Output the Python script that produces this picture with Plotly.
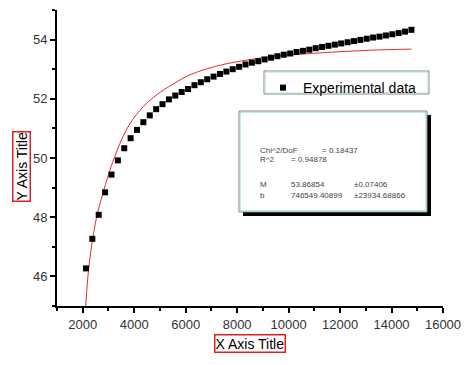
import plotly.graph_objects as go

# ---- data ----
exp_x = [2125, 2373, 2621, 2869, 3117, 3365, 3613, 3861, 4109, 4357, 4605, 4853,
         5101, 5349, 5597, 5845, 6093, 6341, 6589, 6837, 7085, 7333, 7581, 7829,
         8077, 8325, 8573, 8821, 9069, 9317, 9565, 9813, 10061, 10309, 10557, 10805,
         11053, 11301, 11549, 11797, 12045, 12293, 12541, 12789, 13037, 13285, 13533,
         13781, 14029, 14277, 14525, 14773]
exp_y = [46.27, 47.27, 48.08, 48.84, 49.44, 49.92, 50.33, 50.67, 50.95, 51.21,
         51.44, 51.65, 51.82, 51.98, 52.11, 52.23, 52.33, 52.46, 52.56, 52.66,
         52.75, 52.84, 52.92, 53.00, 53.08, 53.16, 53.22, 53.27, 53.33, 53.39,
         53.44, 53.49, 53.53, 53.58, 53.62, 53.66, 53.71, 53.75, 53.79, 53.83,
         53.87, 53.91, 53.95, 53.99, 54.03, 54.07, 54.10, 54.14, 54.18, 54.22,
         54.27, 54.33]

fit_x = [2115, 2255, 2527, 2774, 2994, 3226, 3705, 4223, 4850, 5517, 6165, 6813,
         7458, 8107, 8755, 9400, 11213, 13155, 14775]
fit_y = [45.0, 46.45, 47.95, 48.78, 49.42, 50.01, 50.97, 51.61, 52.12, 52.50,
         52.81, 53.01, 53.16, 53.27, 53.36, 53.43, 53.55, 53.64, 53.68]

x_ticks = [2000, 4000, 6000, 8000, 10000, 12000, 14000, 16000]
y_ticks = [46, 48, 50, 52, 54]

legend_label = "Experimental data"
x_title = "X Axis Title"
y_title = "Y Axis Title"
stats_rows = [
    ["Chi^2/DoF", "= 0.18437", ""],
    ["R^2", "= 0.94878", ""],
    ["M", "53.86854", "±0.07406"],
    ["b", "746549.40899", "±23934.68866"],
]

# ---- layout geometry (pixels in the reference picture) ----
OFF = 8                      # default page body margin of the browser
W, H = 474 - OFF, 365 - OFF  # figure size so that it ends at the window edge
L, R, T, B = 57, 443, 10, 306
FONT = "Arial, Liberation Sans, sans-serif"


def px(xp):
    return (xp - L) / (R - L)


def py(yp):
    return (B - yp) / (B - T)


fig = go.Figure()
fig.add_trace(go.Scatter(
    x=fit_x, y=fit_y, mode="lines",
    line=dict(color="rgb(232,40,50)", width=1, shape="spline", smoothing=1.0),
    showlegend=False, hoverinfo="skip"))
fig.add_trace(go.Scatter(
    x=exp_x, y=exp_y, mode="markers", name=legend_label,
    marker=dict(symbol="square", size=6, color="black")))

shapes = []
# legend box
shapes.append(dict(type="rect", xref="paper", yref="paper", layer="below",
                   x0=px(264), x1=px(429), y0=py(94), y1=py(71),
                   line=dict(color="#a07880", width=1), fillcolor="white"))
shapes.append(dict(type="rect", xref="paper", yref="paper", layer="below",
                   x0=px(265), x1=px(428), y0=py(93), y1=py(72),
                   line=dict(color="#9ee6e6", width=1)))
# stats box with shadow
shapes.append(dict(type="rect", xref="paper", yref="paper",
                   x0=px(243), x1=px(431), y0=py(216), y1=py(115),
                   line=dict(width=0), fillcolor="black"))
shapes.append(dict(type="rect", xref="paper", yref="paper",
                   x0=px(239), x1=px(427), y0=py(212), y1=py(111),
                   line=dict(color="#a07880", width=1), fillcolor="white"))
shapes.append(dict(type="rect", xref="paper", yref="paper",
                   x0=px(240), x1=px(426), y0=py(211), y1=py(112),
                   line=dict(color="#7adada", width=1)))

annotations = []
row_y = [150.7, 159.5, 184.7, 195.7]
col_x = [[258, 320, 0], [258, 289, 0], [258, 289, 352], [258, 289, 352]]
for r, row in enumerate(stats_rows):
    for c, txt in enumerate(row):
        if not txt:
            continue
        annotations.append(dict(
            x=px(col_x[r][c]), y=py(row_y[r]), xref="paper", yref="paper",
            text=txt, showarrow=False, xanchor="left", yanchor="middle",
            font=dict(family=FONT, size=8, color="#444")))

annotations.append(dict(
    x=px(249.5), y=py(343), xref="paper", yref="paper", text=x_title,
    showarrow=False, font=dict(family=FONT, size=14, color="black"),
    bordercolor="#e02020", borderwidth=1.5, borderpad=0, xanchor="center", yanchor="middle"))
annotations.append(dict(
    x=px(21), y=py(167), xref="paper", yref="paper", text=y_title, textangle=-90,
    showarrow=False, font=dict(family=FONT, size=14, color="black"),
    bordercolor="#e02020", borderwidth=1.5, borderpad=0, xanchor="center", yanchor="middle"))

axis_common = dict(
    showline=True, linecolor="black", linewidth=2, mirror=False,
    ticks="outside", ticklen=5, tickwidth=1.5, tickcolor="black",
    showgrid=False, zeroline=False,
    tickfont=dict(family=FONT, size=13, color="#333"),
)

fig.update_layout(
    width=W, height=H,
    margin=dict(l=L - OFF, r=W - (R - OFF), t=T - OFF, b=H - (B - OFF), pad=0),
    paper_bgcolor="white", plot_bgcolor="white",
    xaxis=dict(range=[1000, 16000], tickvals=x_ticks, tickformat="d", automargin=False,
               minor=dict(ticks="outside", ticklen=3, tickwidth=1.5, tickcolor="black", dtick=1000, tick0=0),
               **axis_common),
    yaxis=dict(range=[45, 55], tickvals=y_ticks, automargin=False,
               minor=dict(ticks="outside", ticklen=3, tickwidth=1.5, tickcolor="black", dtick=1, tick0=0),
               **axis_common),
    legend=dict(x=px(263), y=py(72), xanchor="left", yanchor="top",
                bgcolor="rgba(0,0,0,0)", borderwidth=0,
                font=dict(family=FONT, size=14, color="black")),
    shapes=shapes, annotations=annotations,
    showlegend=True,
)

fig.write_html("out.html")
